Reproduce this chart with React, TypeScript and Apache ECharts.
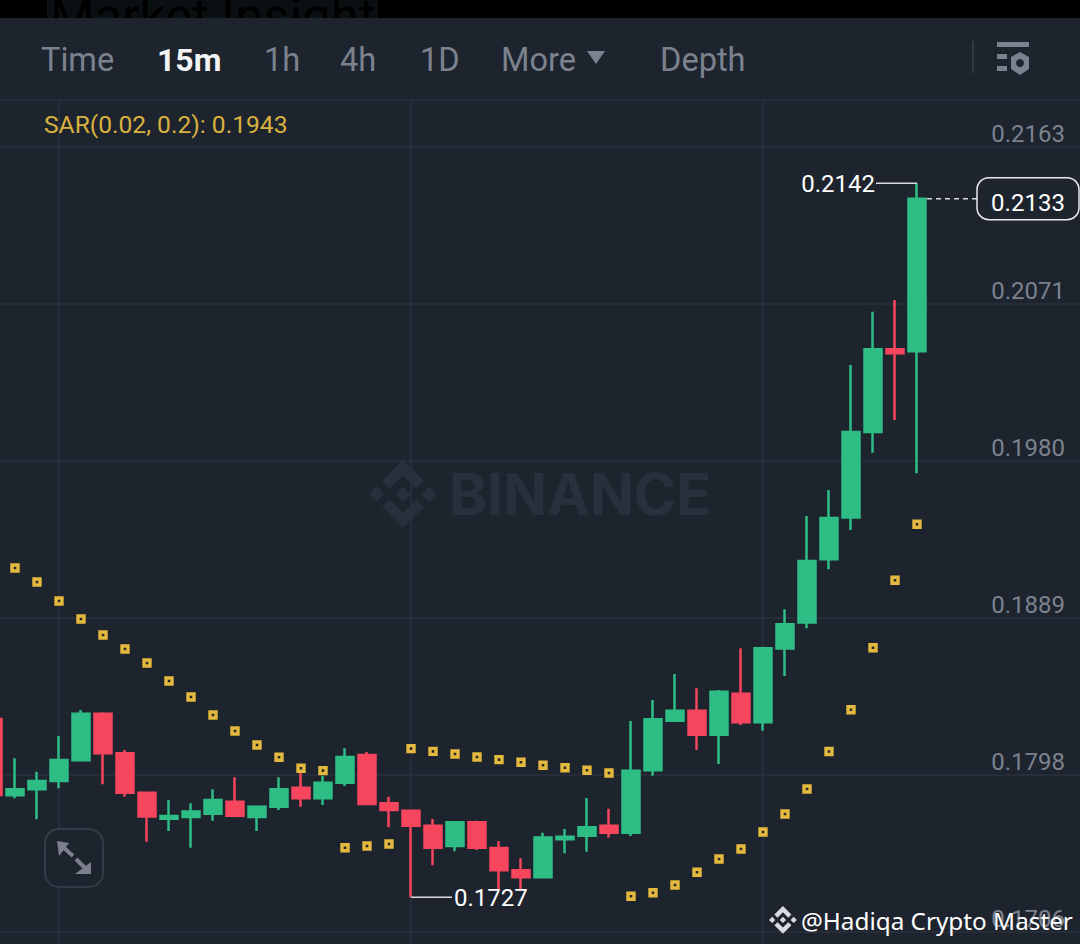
import React, { useEffect, useRef } from "react";
import * as echarts from "echarts";

const FONT = "Roboto";
const BG = "#1e242e";
const GRID = "#2b313c";
const UP = "#2ebd85";
const DOWN = "#f6465d";
const SAR = "#e4b93f";

const categories = Array.from({ length: 51 }, (_, i) => String(i));
const verticalGridIndices = [3, 19, 35];
const priceTicks = [0.2163, 0.20718, 0.19806, 0.18894, 0.17982, 0.17069];

// [open, close, low, high]
const candles = [
  [0.18307, 0.17866, 0.17866, 0.18307],
  [0.17864, 0.17899, 0.17846, 0.18079],
  [0.17899, 0.17947, 0.17724, 0.18001],
  [0.17947, 0.18069, 0.17905, 0.18208],
  [0.18067, 0.18338, 0.18067, 0.18359],
  [0.18338, 0.18108, 0.17928, 0.18346],
  [0.18108, 0.17879, 0.17856, 0.18127],
  [0.17879, 0.1774, 0.17594, 0.17879],
  [0.17728, 0.17744, 0.17656, 0.17837],
  [0.17738, 0.17769, 0.17559, 0.17817],
  [0.17757, 0.17837, 0.17716, 0.17899],
  [0.17827, 0.17745, 0.17736, 0.17968],
  [0.17738, 0.17798, 0.17656, 0.17798],
  [0.17798, 0.17899, 0.17778, 0.17968],
  [0.17908, 0.17846, 0.17798, 0.17992],
  [0.17846, 0.17937, 0.17808, 0.17976],
  [0.17937, 0.18086, 0.17918, 0.18137],
  [0.18098, 0.17813, 0.17808, 0.18115],
  [0.17817, 0.17778, 0.17678, 0.17856],
  [0.17774, 0.17687, 0.17272, 0.17774],
  [0.17687, 0.17559, 0.17457, 0.17726],
  [0.17569, 0.17707, 0.17539, 0.17707],
  [0.17707, 0.17559, 0.17546, 0.17716],
  [0.17558, 0.17428, 0.1732, 0.17598],
  [0.17428, 0.17388, 0.1732, 0.17498],
  [0.17388, 0.17618, 0.17388, 0.17647],
  [0.17608, 0.17623, 0.17527, 0.17668],
  [0.17629, 0.17678, 0.17536, 0.17848],
  [0.17687, 0.17647, 0.17618, 0.17786],
  [0.17647, 0.18007, 0.17627, 0.18295],
  [0.18009, 0.18305, 0.17978, 0.18418],
  [0.18297, 0.18355, 0.18297, 0.18569],
  [0.18355, 0.18216, 0.18127, 0.18485],
  [0.18216, 0.18466, 0.18046, 0.18476],
  [0.18454, 0.18288, 0.18272, 0.18718],
  [0.18288, 0.18718, 0.18239, 0.18727],
  [0.18716, 0.18857, 0.18557, 0.18944],
  [0.18867, 0.19225, 0.18834, 0.19486],
  [0.19235, 0.19475, 0.19177, 0.19637],
  [0.19477, 0.19974, 0.19405, 0.20364],
  [0.19974, 0.20455, 0.19854, 0.20673],
  [0.20455, 0.20432, 0.20044, 0.20741],
  [0.20443, 0.2133, 0.19734, 0.2142],
];

const sarValues = [
  null, 0.19184, 0.19103, 0.18993, 0.18888, 0.18795, 0.18714, 0.18632, 0.18528,
  0.18435, 0.1833, 0.18237, 0.18156, 0.18085, 0.18021, 0.18007, 0.17559, 0.17569,
  0.17581, 0.18135, 0.18119, 0.18104, 0.18086, 0.18071, 0.18056, 0.18038, 0.18024,
  0.18009, 0.17993, 0.17277, 0.17298, 0.17343, 0.17417, 0.17494, 0.17552, 0.17651,
  0.17755, 0.179, 0.18118, 0.18361, 0.18721, 0.19113, 0.19438,
];

const tabLabels = ["Time", "15m", "1h", "4h", "1D", "More", "Depth"];
const activeTab = "15m";

const highIndex = 42;
const highValue = 0.2142;
const lowIndex = 19;
const lowValue = 0.17272;
const lastIndex = 42;
const lastValue = 0.2133;

const LOGO =
  "M16.624 13.9202l2.7175 2.7154-7.353 7.353-7.353-7.352 2.7175-2.7164 4.6355 4.6595 4.6356-4.6595zm4.6366-4.6366L24 12l-2.7154 2.7164L18.5682 12l2.6924-2.7164zm-9.272.001l2.7163 2.6914-2.7164 2.7174v-.001L9.2721 12l2.7164-2.7154zm-9.2722-.001L5.4088 12l-2.6914 2.6924L0 12l2.7164-2.7164zM11.9885.0115l7.353 7.329-2.7174 2.7154-4.6356-4.6356-4.6355 4.6595-2.7174-2.7154 7.353-7.353z";

echarts.graphic.registerShape("logo", (echarts.graphic as any).extendPath(LOGO, {}));

const tabX: Record<string, number> = { Time: 41, "15m": 157, "1h": 264, "4h": 340, "1D": 420, More: 501, Depth: 660 };

const renderAnnotation = (params: any, api: any) => {
  const p = api.coord([api.value(0), api.value(1)]);
  const font = { fontFamily: FONT, fontSize: 24 };
  if (params.dataIndex === 0) {
    return {
      type: "group",
      children: [
        { type: "line", shape: { x1: p[0], y1: p[1], x2: p[0] - 41, y2: p[1] }, style: { stroke: "#d8dade", lineWidth: 1.5 } },
        { type: "text", style: { text: "0.2142", x: p[0] - 42, y: p[1] + 1, fill: "#ffffff", align: "right", verticalAlign: "middle", ...font } },
      ],
    };
  }
  if (params.dataIndex === 1) {
    return {
      type: "group",
      children: [
        { type: "line", shape: { x1: p[0], y1: p[1], x2: p[0] + 41, y2: p[1] }, style: { stroke: "#d8dade", lineWidth: 1.5 } },
        { type: "text", style: { text: "0.1727", x: p[0] + 43, y: p[1] + 1, fill: "#ffffff", align: "left", verticalAlign: "middle", ...font } },
      ],
    };
  }
  return {
    type: "group",
    children: [
      { type: "line", shape: { x1: p[0] + 10, y1: p[1], x2: p[0] + 60, y2: p[1] }, style: { stroke: "#d8dade", lineWidth: 1.5, lineDash: [5, 4] } },
      { type: "rect", shape: { x: p[0] + 60, y: p[1] - 21, width: 102, height: 42, r: 12 }, style: { fill: BG, stroke: "#e8eaee", lineWidth: 1.5 } },
      { type: "text", style: { text: "0.2133", x: p[0] + 111, y: p[1] + 4, fill: "#ffffff", align: "center", verticalAlign: "middle", ...font } },
    ],
  };
};

export default function App() {
  const ref = useRef<HTMLDivElement>(null);
  useEffect(() => {
    document.body.style.margin = "0";
    const chart = echarts.init(ref.current!, undefined, { renderer: "svg" });
    chart.setOption({
      animation: false,
      backgroundColor: BG,
      grid: { left: -7, right: -13, top: 100, bottom: 0, containLabel: false, outerBoundsMode: "none" },
      xAxis: {
        type: "category",
        data: categories,
        boundaryGap: false,
        axisLine: { show: false },
        axisTick: { show: false },
        axisLabel: { show: false },
        splitLine: {
          show: true,
          interval: (i: number) => verticalGridIndices.includes(i),
          lineStyle: { color: GRID, width: 1.5 },
        },
      },
      yAxis: {
        type: "value",
        position: "right",
        min: 0.17,
        max: 0.21903,
        axisLine: { show: false },
        axisTick: { show: false, customValues: priceTicks },
        axisLabel: {
          inside: true,
          margin: 28,
          customValues: priceTicks,
          color: "#7b828e",
          fontFamily: FONT,
          fontSize: 24,
          lineHeight: 26,
          verticalAlign: "bottom",
          formatter: (v: number) => (Math.floor(v * 10000 + 1e-6) / 10000).toFixed(4),
        },
        splitLine: {
          show: true,
          customValues: priceTicks,
          lineStyle: { color: GRID, width: 1.5 },
        },
      },
      series: [
        {
          type: "candlestick",
          data: candles,
          barWidth: 17,
          z: 3,
          itemStyle: { color: UP, color0: DOWN, borderColor: UP, borderColor0: DOWN, borderWidth: 2.5 },
        },
        {
          type: "scatter",
          data: sarValues.map((v, i) => [i, v === null ? "-" : v]),
          symbol: "rect",
          symbolSize: 6,
          z: 4,
          itemStyle: { color: "#2a2a26", borderColor: SAR, borderWidth: 3.4, opacity: 1 },
        },
        {
          type: "custom",
          z: 5,
          data: [
            [highIndex, highValue],
            [lowIndex, lowValue],
            [lastIndex, lastValue],
          ],
          encode: { x: 0, y: 1 },
          renderItem: renderAnnotation,
        },
      ],
      graphic: {
        elements: [
          { type: "logo", x: 369, y: 460, scaleX: 2.83, scaleY: 2.83, z: -1, style: { fill: "#2a303b" } },
          { type: "text", x: 449, y: 494, z: -1, style: { text: "BINANCE", fill: "#2a303b", fontFamily: "Inter", fontWeight: 700, fontSize: 57.5, align: "left", verticalAlign: "middle" } },
          { type: "rect", z: 10, shape: { x: 0, y: 0, width: 1080, height: 18 }, style: { fill: "#000000" } },
          { type: "rect", z: 10, shape: { x: 47, y: 0, width: 331, height: 18 }, style: { fill: "#0a0f12" } },
          { type: "text", x: 50, y: -8, z: 11, style: { text: "Market Insight", fill: "#000000", fontFamily: FONT, fontSize: 51, align: "left", verticalAlign: "top" } },
          { type: "rect", z: 12, shape: { x: 0, y: 18, width: 1080, height: 81 }, style: { fill: BG } },
          { type: "line", z: 12, shape: { x1: 0, y1: 100, x2: 1080, y2: 100 }, style: { stroke: GRID, lineWidth: 1.5 } },
          ...tabLabels.map((t) => ({
            type: "text",
            x: tabX[t],
            y: 60,
            z: 13,
            style: {
              text: t,
              fill: t === activeTab ? "#f2f3f5" : "#7b828e",
              fontFamily: FONT,
              fontWeight: t === activeTab ? 700 : 400,
              fontSize: t === activeTab ? 32 : 32.6,
              align: "left",
              verticalAlign: "middle",
            },
          })),
          { type: "polygon", z: 13, shape: { points: [[587, 51], [605, 51], [596, 64]] }, style: { fill: "#7b828e" } },
          { type: "line", z: 13, shape: { x1: 973, y1: 41, x2: 973, y2: 73 }, style: { stroke: "#3a404b", lineWidth: 1.5 } },
          { type: "rect", z: 13, shape: { x: 997, y: 42, width: 32, height: 5 }, style: { fill: "#7b828e" } },
          { type: "rect", z: 13, shape: { x: 997, y: 54, width: 10, height: 5 }, style: { fill: "#7b828e" } },
          { type: "rect", z: 13, shape: { x: 997, y: 66, width: 10, height: 5 }, style: { fill: "#7b828e" } },
          { type: "polygon", z: 13, shape: { points: [[1020, 52], [1029, 57], [1029, 69], [1020, 75], [1011, 69], [1011, 57]] }, style: { fill: "#7b828e" } },
          { type: "circle", z: 13, shape: { cx: 1020, cy: 63, r: 4 }, style: { fill: BG } },
          { type: "text", x: 44, y: 124, z: 13, style: { text: "SAR(0.02, 0.2): 0.1943", fill: "#d9b13e", fontFamily: FONT, fontSize: 24.6, align: "left", verticalAlign: "middle" } },
          { type: "rect", z: 13, shape: { x: 45, y: 829, width: 58, height: 58, r: 14 }, style: { fill: BG, stroke: "#353b46", lineWidth: 2 } },
          { type: "polygon", z: 14, shape: { points: [[57, 841], [69, 843], [59, 856]] }, style: { fill: "#7b808c" } },
          { type: "polygon", z: 14, shape: { points: [[91, 874], [91, 862], [75, 874]] }, style: { fill: "#7b808c" } },
          { type: "line", z: 14, shape: { x1: 63, y1: 847, x2: 73, y2: 856 }, style: { stroke: "#7b808c", lineWidth: 4 } },
          { type: "line", z: 14, shape: { x1: 76, y1: 859, x2: 85, y2: 868 }, style: { stroke: "#7b808c", lineWidth: 4 } },
          { type: "logo", x: 769, y: 906, scaleX: 1.16, scaleY: 1.16, z: 20, style: { fill: "#d8dade" } },
          { type: "text", x: 801, y: 920, z: 20, style: { text: "@Hadiqa Crypto Master", fill: "#ffffff", fontFamily: "Noto Sans", fontSize: 24.3, align: "left", verticalAlign: "middle" } },
        ],
      },
    });
    return () => chart.dispose();
  }, []);
  return <div ref={ref} style={{ width: 1080, height: 944 }} />;
}
